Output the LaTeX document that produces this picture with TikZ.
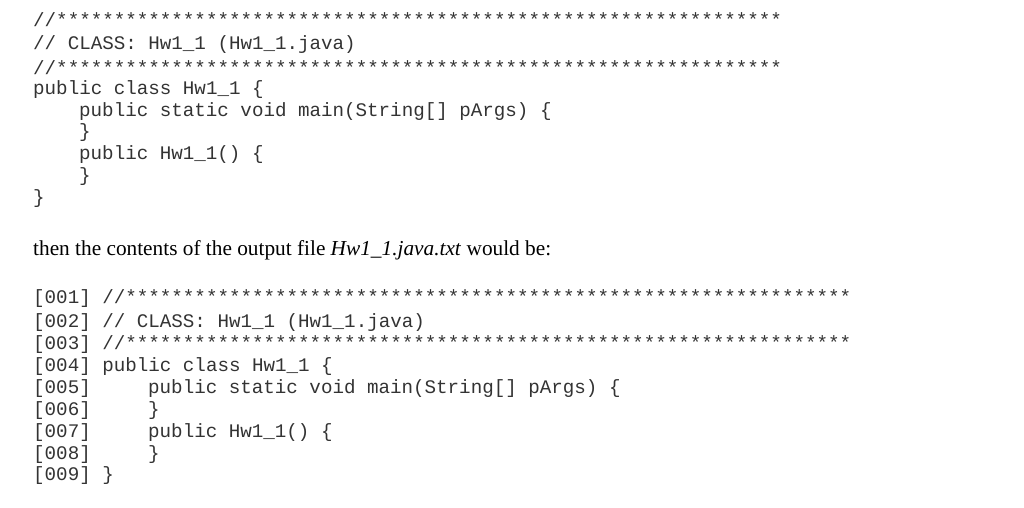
\documentclass[tikz,border=0pt]{standalone}
\usepackage{fontspec}
\setmainfont{Liberation Serif}
\newfontfamily\code{Liberation Mono}
\begin{document}
\begin{tikzpicture}[x=1pt,y=-1pt,
  ln/.style={anchor=west,inner sep=0pt,font=\code\fontsize{19.2}{19}\selectfont,text=black!80},
  tx/.style={anchor=west,inner sep=0pt,font=\fontsize{21.3}{20}\selectfont}]
\useasboundingbox (0,0) rectangle (1024,507);
\def\S{***************************************************************}
\node[ln] (a1) at (33,20) {//\S};
\node[ln] (a2) at (33,45) {// CLASS: Hw1\_1 (Hw1\_1.java)};
\node[ln] (a3) at (33,68) {//\S};
\node[ln] (a4) at (33,90) {public class Hw1\_1 \{};
\node[ln] (a5) at (79,112) {public static void main(String[] pArgs) \{};
\node[ln] (a6) at (79,133) {\}};
\node[ln] (a7) at (79,155) {public Hw1\_1() \{};
\node[ln] (a8) at (79,177) {\}};
\node[ln] (a9) at (33,199) {\}};
\node[tx] (t) at (33,250) {then the contents of the output file \textit{Hw1\_1.java.txt} would be:};
\node[ln] (b1) at (33,299) {[001] //\S};
\node[ln] (b2) at (33,323) {[002] // CLASS: Hw1\_1 (Hw1\_1.java)};
\node[ln] (b3) at (33,345) {[003] //\S};
\node[ln] (b4) at (33,367) {[004] public class Hw1\_1 \{};
\node[ln] (b5) at (33,389) {[005]};
\node[ln] (b5b) at (148,389) {public static void main(String[] pArgs) \{};
\node[ln] (b6) at (33,411) {[006]};
\node[ln] (b6b) at (148,411) {\}};
\node[ln] (b7) at (33,433) {[007]};
\node[ln] (b7b) at (148,433) {public Hw1\_1() \{};
\node[ln] (b8) at (33,455) {[008]};
\node[ln] (b8b) at (148,455) {\}};
\node[ln] (b9) at (33,476) {[009] \}};
\end{tikzpicture}
\end{document}
